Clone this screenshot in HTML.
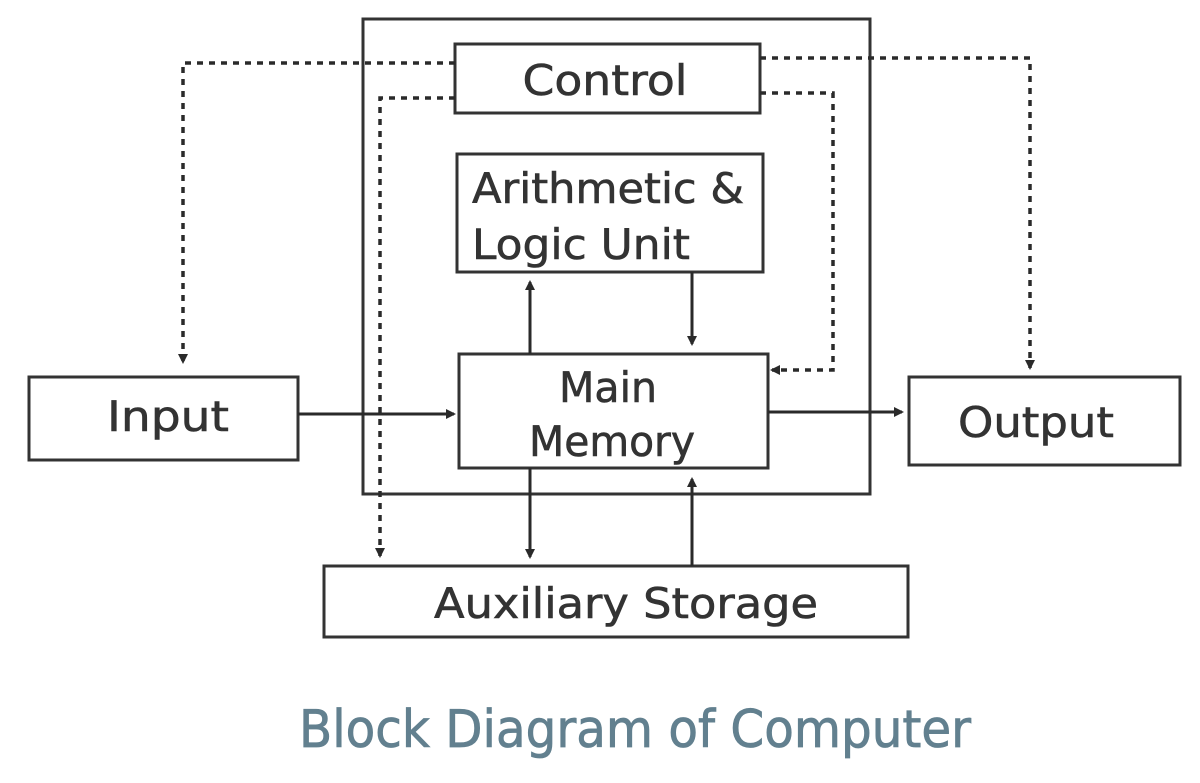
<!DOCTYPE html>
<html><head><meta charset="utf-8"><style>html,body{margin:0;padding:0;background:#fff}</style></head>
<body>
<svg width="1200" height="778" viewBox="0 0 1200 778" xmlns="http://www.w3.org/2000/svg">
<defs>
<marker id="a" markerWidth="10" markerHeight="10" refX="8" refY="5" orient="auto" markerUnits="userSpaceOnUse"><path d="M0,0 L10,5 L0,10 z" fill="#2a2a2a"/></marker>
</defs>
<g fill="none" stroke="#333" stroke-width="3">
<rect x="363" y="19" width="507" height="475"/>
<rect x="455" y="44" width="305" height="69" fill="#fff"/>
<rect x="457" y="154" width="306" height="118"/>
<rect x="459" y="354" width="309" height="114"/>
<rect x="29" y="377" width="269" height="83"/>
<rect x="909" y="377" width="271" height="88"/>
<rect x="324" y="566" width="584" height="71"/>
</g>
<g fill="none" stroke="#2a2a2a" stroke-width="3.5" stroke-dasharray="6,6">
<path d="M455,63 H183 V362" marker-end="url(#a)"/>
<path d="M455,98 H380 V556" marker-end="url(#a)"/>
<path d="M760,58 H1030 V368" marker-end="url(#a)"/>
<path d="M760,93 H833 V370 H772" marker-end="url(#a)"/>
</g>
<g fill="none" stroke="#2a2a2a" stroke-width="3">
<path d="M298,414 H454" marker-end="url(#a)"/>
<path d="M768,412 H902" marker-end="url(#a)"/>
<path d="M530,354 V282" marker-end="url(#a)"/>
<path d="M692,272 V344" marker-end="url(#a)"/>
<path d="M530,468 V557" marker-end="url(#a)"/>
<path d="M692,566 V479" marker-end="url(#a)"/>
</g>
<g font-family="DejaVu Sans, Liberation Sans, sans-serif" font-size="42" fill="#333" stroke="#333" stroke-width="0.6">
<text x="605" y="95" text-anchor="middle" textLength="165" lengthAdjust="spacingAndGlyphs">Control</text>
<text x="472" y="203" textLength="272" lengthAdjust="spacingAndGlyphs">Arithmetic &amp;</text>
<text x="472" y="259" textLength="218" lengthAdjust="spacingAndGlyphs">Logic Unit</text>
<text x="608" y="402" text-anchor="middle" textLength="98" lengthAdjust="spacingAndGlyphs">Main</text>
<text x="612" y="456" text-anchor="middle" textLength="166" lengthAdjust="spacingAndGlyphs">Memory</text>
<text x="168" y="431" text-anchor="middle" textLength="122" lengthAdjust="spacingAndGlyphs">Input</text>
<text x="1036" y="437" text-anchor="middle" textLength="156" lengthAdjust="spacingAndGlyphs">Output</text>
<text x="626" y="618" text-anchor="middle" textLength="384" lengthAdjust="spacingAndGlyphs">Auxiliary Storage</text>
</g>
<text x="635" y="747" text-anchor="middle" font-family="DejaVu Sans, Liberation Sans, sans-serif" font-size="52" fill="#62808f" stroke="#62808f" stroke-width="0.8" textLength="672" lengthAdjust="spacingAndGlyphs">Block Diagram of Computer</text>
</svg>
</body></html>
